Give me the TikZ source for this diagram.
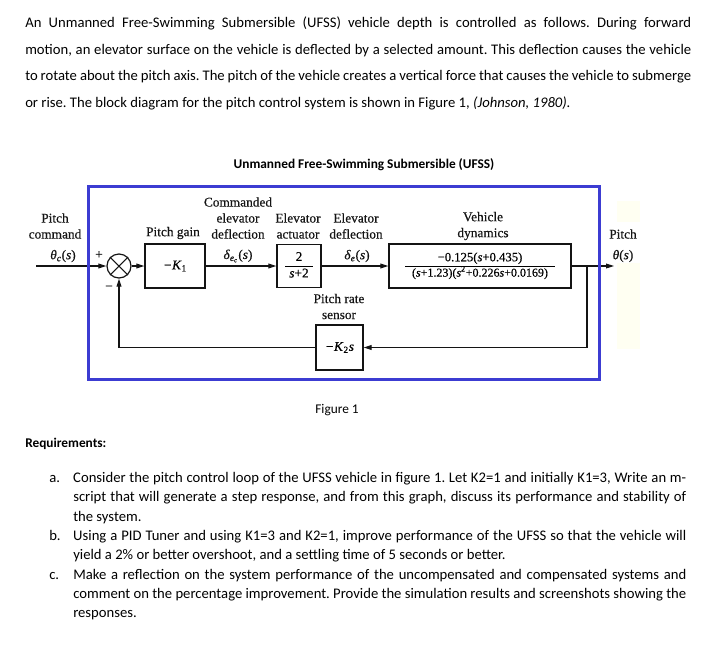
\documentclass[tikz,border=0pt]{standalone}
\usepackage{fontspec}
\setmainfont{Carlito}
\newfontfamily\figfont{Liberation Serif}[FakeBold=0.4]
\usetikzlibrary{arrows.meta,positioning}
\definecolor{frameblue}{HTML}{3C3CD2}
\definecolor{scanyellow}{HTML}{FFFFF2}
\definecolor{ink}{HTML}{141414}
\tolerance=10000
\hyphenpenalty=10000
\frenchspacing
\tikzset{
  blk/.style   = {draw=ink, line width=0.9pt, inner sep=0pt, font=\figfont\fontsize{10}{12}\selectfont},
  junc/.style  = {draw=ink, line width=0.9pt, circle, minimum size=18pt, inner sep=0pt},
  sig/.style   = {-{Triangle[length=6pt,width=3.6pt]}, line width=0.8pt, draw=ink},
  wire/.style  = {line width=0.8pt, draw=ink},
  lbl/.style   = {font=\figfont\fontsize{10}{12}\selectfont, inner sep=0pt, align=center, text=ink},
  body/.style  = {font=\fontsize{11}{19.9}\selectfont, inner sep=0pt, align=justify, anchor=base west},
  frame/.style = {draw=frameblue, line width=2.25pt},
}

\begin{document}
\begin{tikzpicture}[x=0.75pt, y=-0.75pt]
  \fill[white] (0,0) rectangle (726,647);
  \useasboundingbox (0,0) rectangle (726,647);

  % intro text
  \node[body, text width=499.5pt] (intro) at (25,27.5) {%
    An Unmanned Free-Swimming Submersible (UFSS) vehicle depth is controlled as follows. During forward\linebreak
    motion, an elevator surface on the vehicle is deflected by a selected amount. This deflection causes the vehicle\linebreak
    to rotate about the pitch axis. The pitch of the vehicle creates a vertical force that causes the vehicle to submerge\linebreak
    or rise. The block diagram for the pitch control system is shown in Figure 1, \textit{(Johnson, 1980).}};

  \node[font=\bfseries] (title) at (364,165) {Unmanned Free-Swimming Submersible (UFSS)};

  % scan tint
  \fill[scanyellow] (617,201) rectangle (640,222);
  \fill[scanyellow] (617,263) rectangle (640,349);

  % blocks
  \node[junc] (sum) at (119,266) {};
  \draw[wire] (sum.north west) -- (sum.south east) (sum.north east) -- (sum.south west);
  \node[blk, minimum width=45pt, minimum height=33pt] (gain) at (175,266) {\textit{−K}\textsubscript{1}};
  \node[blk, minimum width=33pt, minimum height=32.25pt] (act) at (299,266)
    {\begin{tabular}{@{\hspace{3pt}}c@{\hspace{3pt}}}2\\\hline\textit{s}+2\end{tabular}};
  \node[blk, minimum width=136.5pt, minimum height=33pt] (veh) at (480,266)
    {\fontsize{9}{11}\selectfont\begin{tabular}{@{\hspace{5pt}}c@{\hspace{5pt}}}{\fontsize{9.5}{11}\selectfont−0.125(\textit{s}+0.435)}\\\hline
     (\textit{s}+1.23)(\textit{s}\textsuperscript{2}+0.226\textit{s}+0.0169)\end{tabular}};
  \node[blk, minimum width=35.25pt, minimum height=33.75pt] (sens) at (339.5,347.5) {\textit{−K}\textsubscript{2}\textit{s}};
  \coordinate (in) at (36,266);
  \coordinate (out) at (614,266);
  \coordinate (tap) at (587,266);

  % signals
  \draw[sig] (in) -- (sum);
  \draw[sig] (sum) -- (gain);
  \draw[sig] (gain) -- (act);
  \draw[sig] (act) -- (veh);
  \draw[sig] (veh) -- (out);
  \draw[sig] (tap) |- (sens);
  \draw[sig] (sens) -| (sum);

  % labels
  \node[lbl] (cmdlbl) at (55,226) {Pitch\\command};
  \node[lbl] (thc) at (63,256) {\textit{θ}\textsubscript{\textit{c}}(\textit{s})};
  \node[lbl] (plus) at (99,255) {+};
  \node[lbl] (minus) at (109,288) {−};
  \node[lbl] (gainlbl) at (173,233) {Pitch gain};
  \node[lbl] (dclbl) at (238,218) {Commanded\\elevator\\deflection};
  \node[lbl] (dec) at (238,256) {\textit{δ}\textsubscript{\textit{e}\textsubscript{\textit{c}}}(\textit{s})};
  \node[lbl] (actlbl) at (298,226) {Elevator\\actuator};
  \node[lbl] (delbl) at (356,226) {Elevator\\deflection};
  \node[lbl] (de) at (357,256) {\textit{δ}\textsubscript{\textit{e}}(\textit{s})};
  \node[lbl] (vehlbl) at (483,226) {Vehicle\\dynamics};
  \node[lbl] (senslbl) at (339,306.5) {Pitch rate\\sensor};
  \node[lbl] (outlbl) at (623,234) {Pitch};
  \node[lbl] (th) at (623,256) {\textit{θ}(\textit{s})};

  % UFSS frame
  \draw[frame] (88,186) rectangle (599,379);

  \node (figlbl) at (337,410) {Figure 1};

  % requirements
  \node[body, font=\bfseries] (reqhead) at (25,447) {Requirements:};
  \node[body, font=\fontsize{11}{14.5}\selectfont, text width=477.75pt] (reqs) at (49,482.5) {%
    \parindent=0pt
    {\hangindent=18pt\hangafter=1\makebox[18pt][l]{a.}Consider the pitch control loop of the UFSS vehicle in figure 1. Let K2=1 and initially K1=3, Write an m-\linebreak
    script that will generate a step response, and from this graph, discuss its performance and stability of\linebreak
    the system.\par}
    {\hangindent=18pt\hangafter=1\makebox[18pt][l]{b.}Using a PID Tuner and using K1=3 and K2=1, improve performance of the UFSS so that the vehicle will\linebreak
    yield a 2\% or better overshoot, and a settling time of 5 seconds or better.\par}
    {\hangindent=18pt\hangafter=1\makebox[18pt][l]{c.}Make a reflection on the system performance of the uncompensated and compensated systems and\linebreak
    comment on the percentage improvement. Provide the simulation results and screenshots showing the\linebreak
    responses.\par}};
\end{tikzpicture}
\end{document}
